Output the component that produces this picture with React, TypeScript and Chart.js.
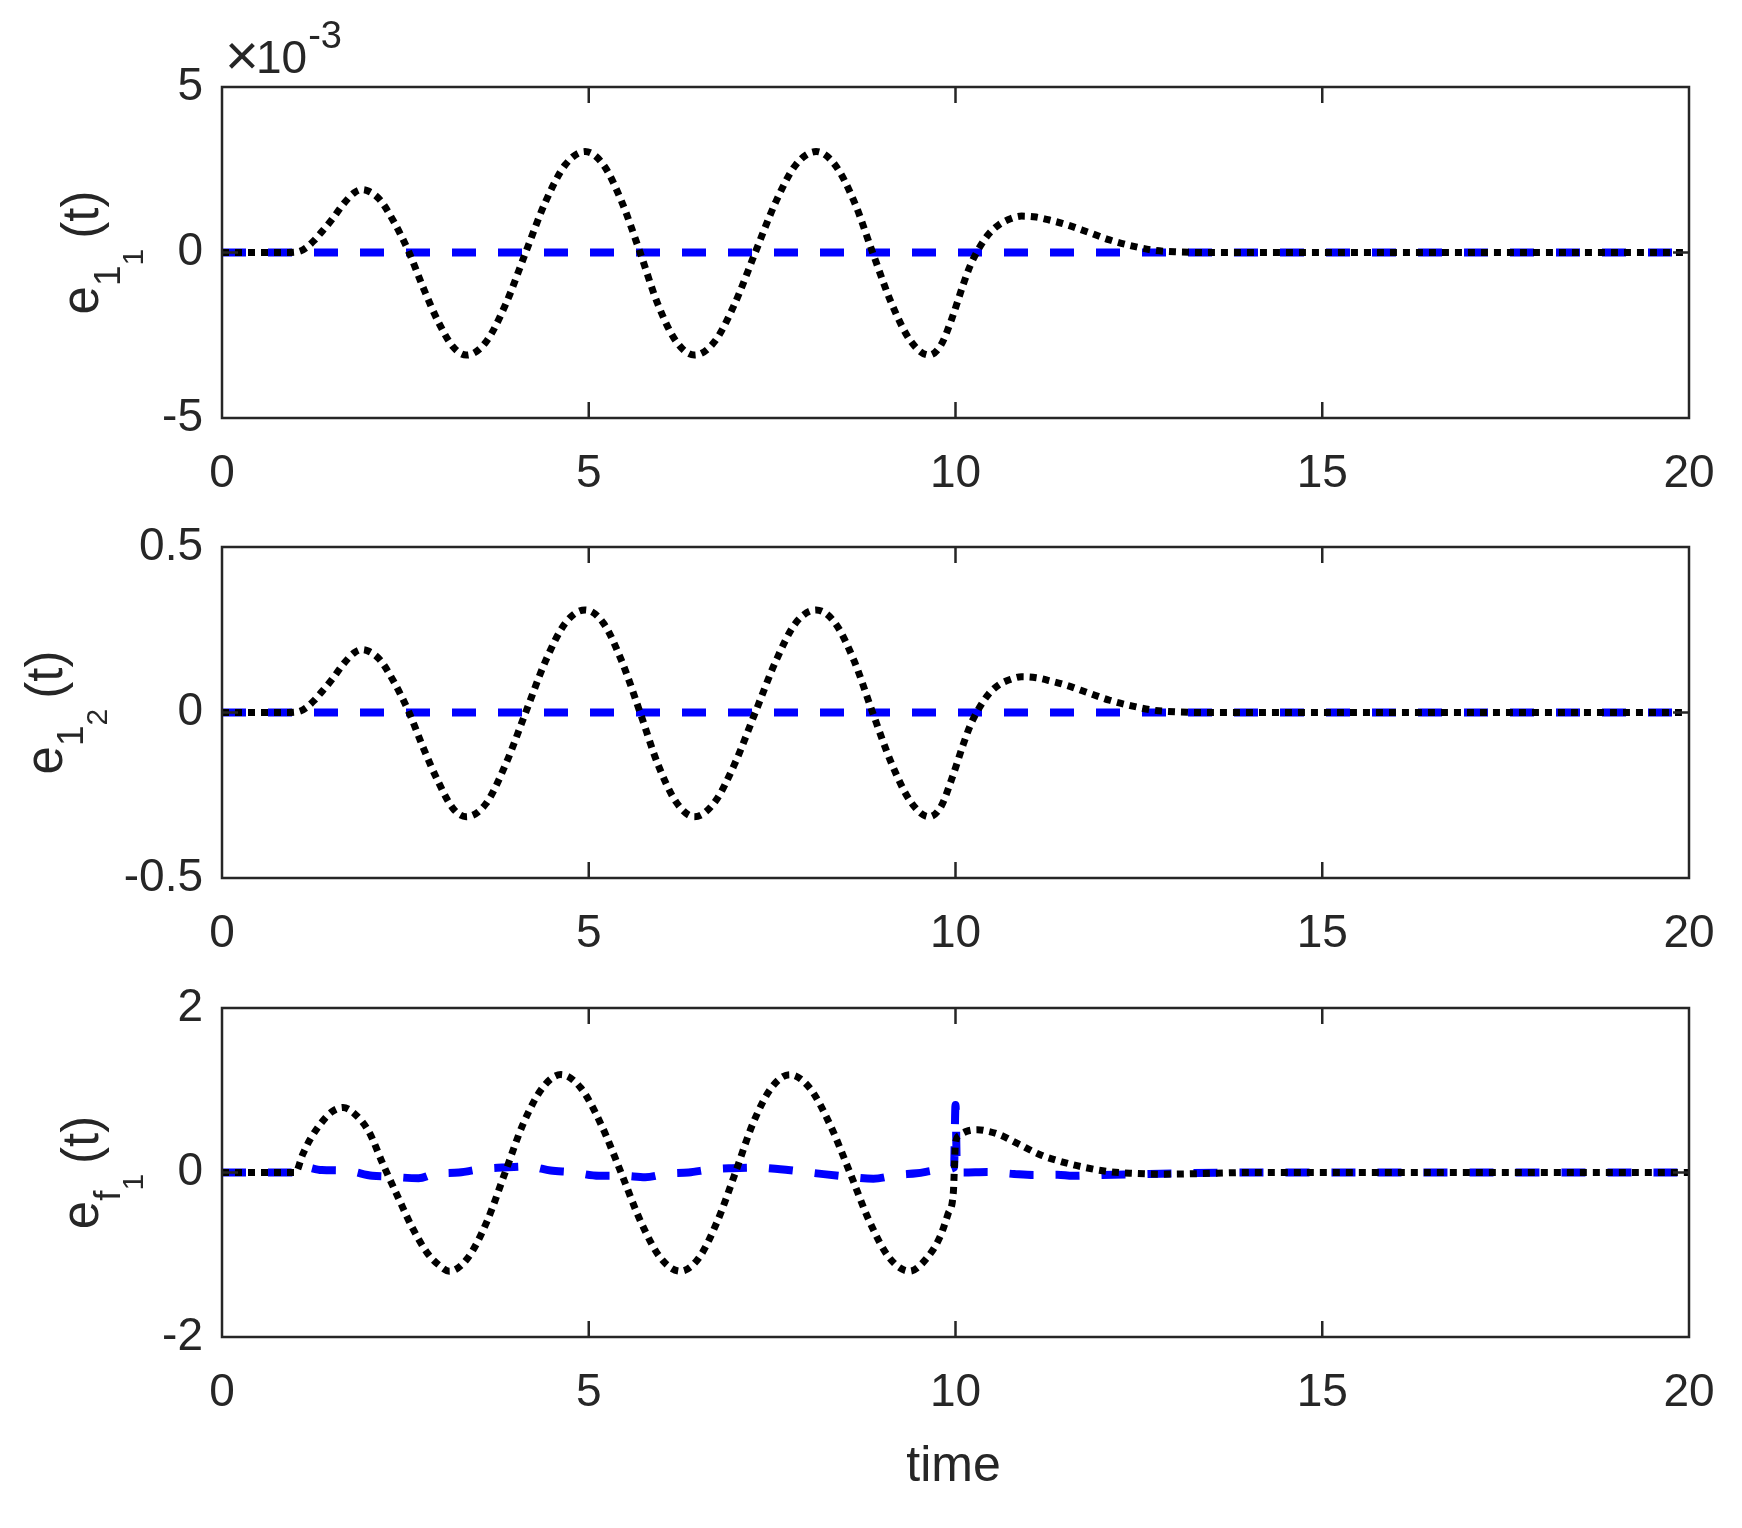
import React, { useEffect, useRef } from "react";
import { Chart, registerables } from "chart.js";
Chart.register(...registerables);

// ---------------- data ----------------
const timeTicks = [0, 5, 10, 15, 20];
const yTicks1 = [-5, 0, 5];
const yTicks2 = [-0.5, 0, 0.5];
const yTicks3 = [-2, 0, 2];

// time grid of the black dotted curves, panels 1 and 2
const tBlack12 = [
  0, 0.5, 0.9, 1.05, 1.15, 1.25, 1.35, 1.5, 1.65, 1.8,
  1.9, 2.0, 2.15, 2.35, 2.55, 2.75, 2.95, 3.15, 3.33, 3.6,
  3.87, 4.14, 4.41, 4.68, 4.95, 5.2, 5.45, 5.7, 5.94, 6.19,
  6.44, 6.72, 6.99, 7.27, 7.55, 7.82, 8.1, 8.36, 8.62, 8.87,
  9.13, 9.39, 9.64, 9.8, 9.95, 10.1, 10.2, 10.3, 10.45, 10.6,
  10.75, 10.9, 11.1, 11.3, 11.5, 11.8, 12.1, 12.4, 12.7, 13.0,
  13.5, 14, 15, 16, 17, 18, 19, 20,
];
// e_{1_1}(t), units of 1e-3
const e11Black = [
  0, 0, 0, 0.03, 0.15, 0.35, 0.6, 1.0, 1.45, 1.8,
  1.9, 1.85, 1.6, 0.9, 0.0, -1.1, -2.1, -2.85, -3.1, -2.7,
  -1.55, 0, 1.53, 2.65, 3.05, 2.65, 1.53, 0, -1.55, -2.68,
  -3.1, -2.68, -1.55, 0, 1.53, 2.64, 3.05, 2.64, 1.53, 0,
  -1.55, -2.68, -3.1, -2.8, -2.0, -1.0, -0.4, 0.05, 0.55, 0.85,
  1.02, 1.1, 1.07, 0.97, 0.85, 0.62, 0.38, 0.2, 0.07, 0.02,
  0, 0, 0, 0, 0, 0, 0, 0,
];
const e12Black = [
  0, 0, 0, 0.003, 0.015, 0.035, 0.06, 0.1, 0.145, 0.18,
  0.19, 0.185, 0.16, 0.09, 0.0, -0.11, -0.21, -0.29, -0.315, -0.275,
  -0.155, 0, 0.155, 0.27, 0.31, 0.27, 0.155, 0, -0.155, -0.27,
  -0.315, -0.27, -0.155, 0, 0.155, 0.27, 0.31, 0.27, 0.155, 0,
  -0.155, -0.27, -0.315, -0.285, -0.2, -0.1, -0.04, 0.005, 0.055, 0.085,
  0.1, 0.108, 0.105, 0.095, 0.083, 0.06, 0.037, 0.02, 0.007, 0.002,
  0, 0, 0, 0, 0, 0, 0, 0,
];
const tBlue12 = [0, 5, 10, 15, 20];
const e11Blue = [0, 0, 0, 0, 0];
const e12Blue = [0, 0, 0, 0, 0];

const tBlack3 = [
  0, 0.5, 0.9, 1.0, 1.1, 1.2, 1.35, 1.5, 1.65, 1.8,
  2.0, 2.2, 2.4, 2.6, 2.8, 2.95, 3.1, 3.35, 3.61, 3.86,
  4.11, 4.37, 4.62, 4.89, 5.16, 5.44, 5.71, 5.98, 6.25, 6.5,
  6.75, 7.0, 7.24, 7.49, 7.74, 8.01, 8.28, 8.56, 8.83, 9.1,
  9.375, 9.6, 9.79, 9.9, 9.97, 10.0, 10.05, 10.15, 10.3, 10.45,
  10.6, 10.85, 11.17, 11.45, 11.77, 12.09, 12.41, 12.8, 13.5, 14,
  15, 16, 17, 18, 19, 20,
];
const ef1Black = [
  0, 0, 0, 0, 0.22, 0.4, 0.6, 0.74, 0.79, 0.72,
  0.5, 0.09, -0.3, -0.68, -0.98, -1.12, -1.2, -1.04, -0.6, 0,
  0.6, 1.03, 1.19, 1.03, 0.6, 0, -0.6, -1.04, -1.2, -1.04,
  -0.6, 0, 0.6, 1.03, 1.19, 1.03, 0.6, 0, -0.6, -1.04,
  -1.2, -1.05, -0.78, -0.5, -0.25, 0.35, 0.45, 0.5, 0.52, 0.5,
  0.46, 0.35, 0.21, 0.13, 0.06, 0.01, -0.01, -0.02, -0.01, 0,
  0, 0, 0, 0, 0, 0,
];
const tBlue3 = [
  0, 0.5, 0.95, 1.09, 1.36, 1.68, 2.05, 2.27, 2.68, 2.9,
  3.23, 3.55, 3.82, 4.18, 4.48, 4.77, 5.14, 5.45, 5.77, 6.05,
  6.36, 6.68, 6.95, 7.29, 7.61, 7.88, 8.2, 8.52, 8.88, 9.2,
  9.47, 9.79, 9.98, 10.0, 10.02, 10.11, 10.43, 10.8, 11.07, 11.39,
  11.6, 12.0, 12.5, 13, 14, 15, 16, 17, 18, 19,
  20,
];
const ef1Blue = [
  0, 0, 0, 0.073, 0.03, 0.024, -0.04, -0.05, -0.07, -0.016,
  0, 0.045, 0.06, 0.073, 0.024, 0.004, -0.04, -0.04, -0.057, -0.016,
  0, 0.04, 0.053, 0.06, 0.04, 0.014, -0.02, -0.05, -0.075, -0.03,
  -0.01, 0.03, 0.06, 0.82, 0.02, 0, 0.006, -0.018, -0.03, -0.026,
  -0.04, -0.03, -0.02, -0.01, 0, 0, 0, 0, 0, 0,
  0,
];

// ---------------- styling ----------------
const AXIS = "#262626";
const FONT = "'Liberation Sans', Arial, Helvetica, sans-serif";
const TICK_LEN = 16;

type Part = { text: string; size: number; shift: number; gap?: number };

function pts(t: number[], v: number[]) {
  return t.map((x, i) => ({ x, y: v[i] }));
}

function makeDecor(labelX: number, parts: Part[], extra?: (ctx: CanvasRenderingContext2D, chart: any) => void) {
  return {
    id: "decor",
    afterDatasetsDraw(chart: any) {
      const { ctx, chartArea: a, scales } = chart;
      ctx.save();
      ctx.setLineDash([]);
      ctx.strokeStyle = AXIS;
      ctx.lineWidth = 2.5;
      ctx.strokeRect(a.left, a.top, a.right - a.left, a.bottom - a.top);
      ctx.beginPath();
      const xs = scales.x;
      const ys = scales.y;
      xs.ticks.forEach((t: any) => {
        const px = xs.getPixelForValue(t.value);
        if (px > a.left + 2 && px < a.right - 2) {
          ctx.moveTo(px, a.bottom);
          ctx.lineTo(px, a.bottom - TICK_LEN);
          ctx.moveTo(px, a.top);
          ctx.lineTo(px, a.top + TICK_LEN);
        }
      });
      ys.ticks.forEach((t: any) => {
        const py = ys.getPixelForValue(t.value);
        if (py > a.top + 2 && py < a.bottom - 2) {
          ctx.moveTo(a.left, py);
          ctx.lineTo(a.left + TICK_LEN, py);
          ctx.moveTo(a.right, py);
          ctx.lineTo(a.right - TICK_LEN, py);
        }
      });
      ctx.stroke();

      // rotated y label with nested subscripts
      ctx.fillStyle = AXIS;
      ctx.textBaseline = "alphabetic";
      ctx.textAlign = "left";
      let total = 0;
      const widths = parts.map((p) => {
        ctx.font = `${p.size}px ${FONT}`;
        const w = ctx.measureText(p.text).width;
        total += w + (p.gap || 0);
        return w;
      });
      const cy = (a.top + a.bottom) / 2;
      ctx.translate(labelX, cy);
      ctx.rotate(-Math.PI / 2);
      let x = -total / 2;
      parts.forEach((p, i) => {
        x += p.gap || 0;
        ctx.font = `${p.size}px ${FONT}`;
        ctx.fillText(p.text, x, p.shift);
        x += widths[i];
      });
      ctx.setTransform(1, 0, 0, 1, 0, 0);
      if (extra) extra(ctx, chart);
      ctx.restore();
    },
  };
}

type PanelProps = {
  top: number;
  height: number;
  padTop: number;
  xAxisHeight: number;
  yMin: number;
  yMax: number;
  yTicks: number[];
  black: { x: number; y: number }[];
  blue: { x: number; y: number }[];
  labelX: number;
  parts: Part[];
  extra?: (ctx: CanvasRenderingContext2D, chart: any) => void;
};

function Panel(props: PanelProps) {
  const ref = useRef<HTMLCanvasElement | null>(null);
  useEffect(() => {
    if (!ref.current) return;
    const chart = new Chart(ref.current, {
      type: "line",
      data: {
        datasets: [
          {
            data: props.black,
            borderColor: "#000000",
            borderWidth: 7,
            borderDash: [7, 6],
            pointRadius: 0,
            cubicInterpolationMode: "monotone",
            fill: false,
          },
          {
            data: props.blue,
            borderColor: "#0000ff",
            borderWidth: 8,
            borderDash: [24, 22],
            pointRadius: 0,
            cubicInterpolationMode: "monotone",
            fill: false,
          },
        ],
      },
      options: {
        animation: false,
        responsive: false,
        devicePixelRatio: 1,
        layout: { padding: { top: props.padTop, right: 53, left: 0, bottom: 0 } },
        plugins: { legend: { display: false }, tooltip: { enabled: false } },
        scales: {
          x: {
            type: "linear",
            min: 0,
            max: 20,
            afterBuildTicks: (s: any) => {
              s.ticks = timeTicks.map((v) => ({ value: v }));
            },
            afterFit: (s: any) => {
              s.height = props.xAxisHeight;
            },
            grid: { display: false, drawTicks: false },
            border: { display: false },
            ticks: {
              font: { family: FONT, size: 46, lineHeight: 112 / 46 },
              color: AXIS,
              padding: 0,
              maxRotation: 0,
              autoSkip: false,
              callback: (v: any) => String(v),
            },
          },
          y: {
            type: "linear",
            min: props.yMin,
            max: props.yMax,
            afterBuildTicks: (s: any) => {
              s.ticks = props.yTicks.map((v) => ({ value: v }));
            },
            afterFit: (s: any) => {
              s.width = 222;
            },
            grid: { display: false, drawTicks: false },
            border: { display: false },
            ticks: {
              font: { family: FONT, size: 46, lineHeight: 1 },
              color: AXIS,
              padding: 19,
              autoSkip: false,
              callback: (v: any) => String(v),
            },
          },
        },
      } as any,
      plugins: [makeDecor(props.labelX, props.parts, props.extra)],
    });
    return () => chart.destroy();
  }, []);
  return (
    <canvas
      ref={ref}
      width={1742}
      height={props.height}
      style={{ position: "absolute", left: 0, top: props.top, width: 1742, height: props.height }}
    />
  );
}

const drawExponent = (ctx: CanvasRenderingContext2D) => {
  ctx.fillStyle = AXIS;
  ctx.textAlign = "left";
  ctx.textBaseline = "alphabetic";
  ctx.font = `58px ${FONT}`;
  ctx.fillText("\u00d7", 225, 75);
  ctx.font = `46px ${FONT}`;
  ctx.fillText("10", 256, 73);
  const w = ctx.measureText("10").width;
  ctx.font = `38px ${FONT}`;
  ctx.fillText("-3", 256 + w + 1, 48);
};

const drawTime = (ctx: CanvasRenderingContext2D, chart: any) => {
  const a = chart.chartArea;
  ctx.fillStyle = AXIS;
  ctx.textAlign = "center";
  ctx.textBaseline = "alphabetic";
  ctx.font = `50px ${FONT}`;
  ctx.fillText("time", (a.left + a.right) / 2 - 2, 521);
};

export default function App() {
  return (
    <div style={{ position: "absolute", left: 0, top: 0, width: 1742, height: 1528, background: "#ffffff" }}>
      <Panel
        top={0}
        height={520}
        padTop={87}
        xAxisHeight={102}
        yMin={-5}
        yMax={5}
        yTicks={yTicks1}
        black={pts(tBlack12, e11Black)}
        blue={pts(tBlue12, e11Blue)}
        labelX={98}
        parts={[
          { text: "e", size: 51, shift: 0 },
          { text: "1", size: 37, shift: 22 },
          { text: "1", size: 30, shift: 45 },
          { text: "(t)", size: 51, shift: 0, gap: 10 },
        ]}
        extra={drawExponent}
      />
      <Panel
        top={500}
        height={480}
        padTop={47}
        xAxisHeight={102}
        yMin={-0.5}
        yMax={0.5}
        yTicks={yTicks2}
        black={pts(tBlack12, e12Black)}
        blue={pts(tBlue12, e12Blue)}
        labelX={62}
        parts={[
          { text: "e", size: 51, shift: 0 },
          { text: "1", size: 37, shift: 21 },
          { text: "2", size: 30, shift: 45 },
          { text: "(t)", size: 51, shift: 0, gap: 10 },
        ]}
      />
      <Panel
        top={960}
        height={568}
        padTop={48}
        xAxisHeight={191}
        yMin={-2}
        yMax={2}
        yTicks={yTicks3}
        black={pts(tBlack3, ef1Black)}
        blue={pts(tBlue3, ef1Blue)}
        labelX={98}
        parts={[
          { text: "e", size: 51, shift: 0 },
          { text: "f", size: 37, shift: 22 },
          { text: "1", size: 30, shift: 45 },
          { text: "(t)", size: 51, shift: 0, gap: 10 },
        ]}
        extra={drawTime}
      />
    </div>
  );
}
